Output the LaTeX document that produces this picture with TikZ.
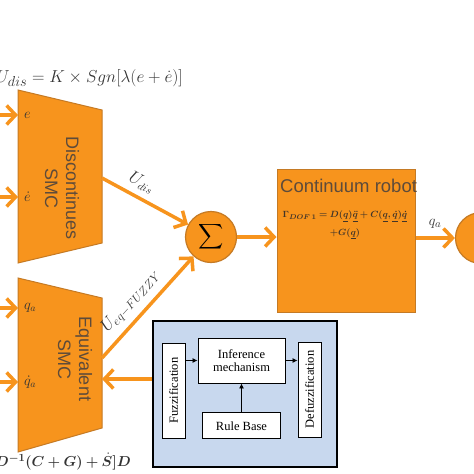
\documentclass[tikz,border=0pt]{standalone}
\usepackage{fontspec}
\setmainfont{Liberation Serif}
\setsansfont{Liberation Sans}
\usepackage{bm}
\usetikzlibrary{positioning, arrows.meta}

\definecolor{smcorange}{HTML}{F7941D}
\definecolor{smcedge}{HTML}{C57A24}
\definecolor{smctext}{HTML}{5E4B3A}
\definecolor{mathgray}{HTML}{333333}
\definecolor{fuzzyblue}{HTML}{C8D8EE}

\begin{document}
\begin{tikzpicture}[x=1pt, y=-1pt, >={Straight Barb[length=9pt, width=19pt]},
    flow/.style={->, draw=smcorange, line width=3.5pt},
    block/.style={draw=smcedge, fill=smcorange, line width=1pt},
    smclabel/.style={rotate=-90, align=center, text=smctext, font=\sffamily\fontsize{18}{21}\selectfont},
    sumnode/.style={circle, draw=smcedge, fill=smcorange, line width=1.2pt, minimum size=51pt, inner sep=0pt},
    formula/.style={text=mathgray, font=\fontsize{15}{15}\selectfont, inner sep=0pt},
    inlabel/.style={text=mathgray, font=\fontsize{14}{14}\selectfont, inner sep=2pt, xshift=4pt},
    fuzzbox/.style={draw=black, fill=white, line width=0.9pt, align=center, inner sep=1pt, font=\fontsize{12.5}{13}\selectfont},
    fzarrow/.style={-{Latex[length=5pt, width=5pt]}, line width=0.8pt}]
    \useasboundingbox (0,0) rectangle (474,474);

    % Control laws
    \node[formula, anchor=east, font=\fontsize{19}{19}\selectfont] (udis-law) at (183,78) {$U_{dis} = K \times Sgn[\lambda(e+\dot{e})]$};
    \node[formula, anchor=east] (ueq-law) at (131,462) {$\bm{U_{eq} = \big[D^{-1}(C+G)+\dot{S}\big]D}$};

    % SMC blocks
    \filldraw[block] (18,90) -- (102,110) -- (102,243) -- (18,263) -- cycle;
    \node[smclabel] (dis) at (62,188) {Discontinues\\SMC};
    \filldraw[block] (18,278) -- (102,298) -- (102,428) -- (18,452) -- cycle;
    \node[smclabel] (eq) at (75,359) {Equivalent\\SMC};
    \coordinate (dis-port) at (102,178);
    \coordinate (eq-port) at (102,358);
    \coordinate (eq-back) at (102,379);

    % Inputs
    \foreach \name/\y/\lab in {e/115/e, de/197/\dot{e}, q/308/q_a, dq/382/\dot{q}_a} {
        \coordinate (\name-src) at (-8,\y);
        \coordinate (\name-in) at (18,\y);
        \draw[flow] (\name-src) -- (\name-in);
        \node[inlabel, right] (\name-lab) at (\name-in) {$\lab$};
    }

    % Sum and plant
    \node[sumnode] (sum) at (211,237) {\resizebox*{!}{28pt}{$\displaystyle\sum$}};
    \node[block, minimum width=138pt, minimum height=143pt] (robot) at (346,240.5) {};
    \node[anchor=base west, text=smctext, font=\sffamily\fontsize{18.5}{19}\selectfont, inner sep=0pt] (robot-title) at (280,192) {Continuum robot};
    \node[text=smctext!70!black, font=\fontsize{9.5}{10}\selectfont, align=center, inner sep=0pt] (robot-eq) at (345,225)
        {$\bm{\Gamma_{DOF\,1} = D(\underline{q})\underline{\ddot{q}} + C(\underline{q},\underline{\dot{q}})\underline{\dot{q}}}$\\[6pt]$\bm{+G(\underline{q})}$};
    \node[sumnode] (out) at (481,238) {};

    % Fuzzy inference system
    \node[draw=black, fill=fuzzyblue, line width=1.8pt, minimum width=184pt, minimum height=146pt] (fuzzy) at (245,394) {};
    \node[fuzzbox, minimum width=87pt, minimum height=45pt] (infer) at (241.5,360.5) {Inference\\mechanism};
    \node[fuzzbox, minimum width=78pt, minimum height=26pt, below=29pt of infer] (rule) {Rule Base};
    \node[fuzzbox, minimum width=23pt, minimum height=95pt] (fuzzif) at (173.5,390.5) {\rotatebox{90}{Fuzzification}};
    \node[fuzzbox, minimum width=23pt, minimum height=95pt] (defuzz) at (309.5,389.5) {\rotatebox{90}{Defuzzification}};
    \draw[fzarrow] (fuzzif.east |- infer.west) -- (infer.west);
    \draw[fzarrow] (infer.east) -- (defuzz.west |- infer.east);
    \draw[fzarrow] (rule.north) -- (infer.south);

    % Signals
    \draw[flow] (dis-port) -- node[pos=0.38, above=6pt, sloped, formula, font=\fontsize{16}{16}\selectfont] (udis-lab) {$U_{dis}$} (sum);
    \draw[flow] (eq-port) -- node[pos=0.45, above=6pt, sloped, formula, font=\fontsize{17}{17}\selectfont] (ueq-lab) {$U_{eq-FUZZY}$} (sum);
    \draw[flow] (sum) -- (robot.west |- sum);
    \draw[flow] (robot.east |- out) -- node[above=8pt, formula, font=\fontsize{15}{15}\selectfont] (qa-lab) {$q_a$} (out);
    \draw[flow] (fuzzy.west |- eq-back) -- (eq-back);
\end{tikzpicture}
\end{document}
